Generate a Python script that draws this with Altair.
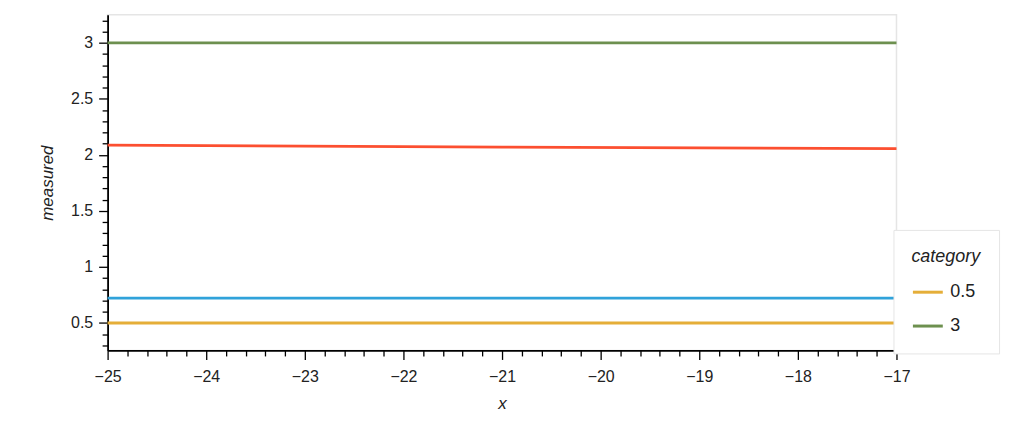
import altair as alt
import pandas as pd

x_vals = [-25, -21, -17]
series_names = ["0.5", "0.72", "2.07", "3"]
series_vals = {
    "0.5": [0.5, 0.5, 0.5],
    "0.72": [0.722, 0.722, 0.722],
    "2.07": [2.087, 2.070, 2.056],
    "3": [3.0, 3.0, 3.0],
}
colors = ["#e5ae38", "#30a2da", "#fc4f30", "#6d904f"]
legend_values = ["0.5", "3"]

y_ticks = [round(0.3 + 0.1 * i, 1) for i in range(30)]
x_ticks = [round(-25 + 0.2 * i, 1) for i in range(41)]

rows = []
for name in series_names:
    for xv, yv in zip(x_vals, series_vals[name]):
        rows.append({"x": xv, "measured": yv, "category": name})
df = pd.DataFrame(rows)

font = "Liberation Sans"
major_y = "abs(round(datum.value*2) - datum.value*2) < 0.001"
major_x = "abs(round(datum.value) - datum.value) < 0.001"

chart = alt.Chart(df).mark_line(strokeWidth=2.8).encode(
    x=alt.X("x:Q", scale=alt.Scale(domain=[-25, -17], nice=False, zero=False),
            axis=alt.Axis(values=x_ticks, grid=False, labelOverlap=False, labelFlush=False,
                          labelExpr=f"{major_x} ? format(datum.value, '~g') : ''",
                          tickSize={"condition": {"test": major_x, "value": 9}, "value": 5.5},
                          tickColor="#000", tickWidth=1.3,
                          domainColor="#000", domainWidth=1.8,
                          labelFont=font, labelFontSize=16, labelColor="#222",
                          labelPadding=9,
                          title="x", titleFont=font, titleFontSize=17,
                          titleFontStyle="italic", titleFontWeight="normal",
                          titleColor="#222", titlePadding=11)),
    y=alt.Y("measured:Q", scale=alt.Scale(domain=[0.255, 3.25], nice=False, zero=False),
            axis=alt.Axis(values=y_ticks, grid=False, labelOverlap=False,
                          labelExpr=f"{major_y} ? format(datum.value, '~g') : ''",
                          tickSize={"condition": {"test": major_y, "value": 9}, "value": 5.5},
                          tickColor="#000", tickWidth=1.3,
                          domainColor="#000", domainWidth=1.8,
                          labelFont=font, labelFontSize=16, labelColor="#222",
                          labelPadding=6,
                          title="measured", titleFont=font, titleFontSize=17,
                          titleFontStyle="italic", titleFontWeight="normal",
                          titleColor="#222", titlePadding=14)),
    color=alt.Color("category:N",
                    scale=alt.Scale(domain=series_names, range=colors),
                    legend=alt.Legend(values=legend_values, orient="none",
                                      legendX=789, legendY=216,
                                      symbolType="stroke", symbolStrokeWidth=3,
                                      symbolSize=900,
                                      strokeColor="#e5e5e5", fillColor="white",
                                      padding=18, rowPadding=8,
                                      titleFont=font, titleFontSize=18,
                                      titleFontStyle="italic", titleFontWeight="normal",
                                      titleColor="#222", titlePadding=10,
                                      labelFont=font, labelFontSize=18, labelColor="#222",
                                      labelOffset=6)),
    order=alt.Order("category:N"),
).properties(
    width=792, height=337,
    autosize=alt.AutoSizeParams(type="none"),
    padding={"left": 100, "top": 6, "right": 120, "bottom": 70},
).configure_view(stroke="#e5e5e5", strokeWidth=1.5)

chart.save("out.html", embed_options={"renderer": "svg", "actions": False})
